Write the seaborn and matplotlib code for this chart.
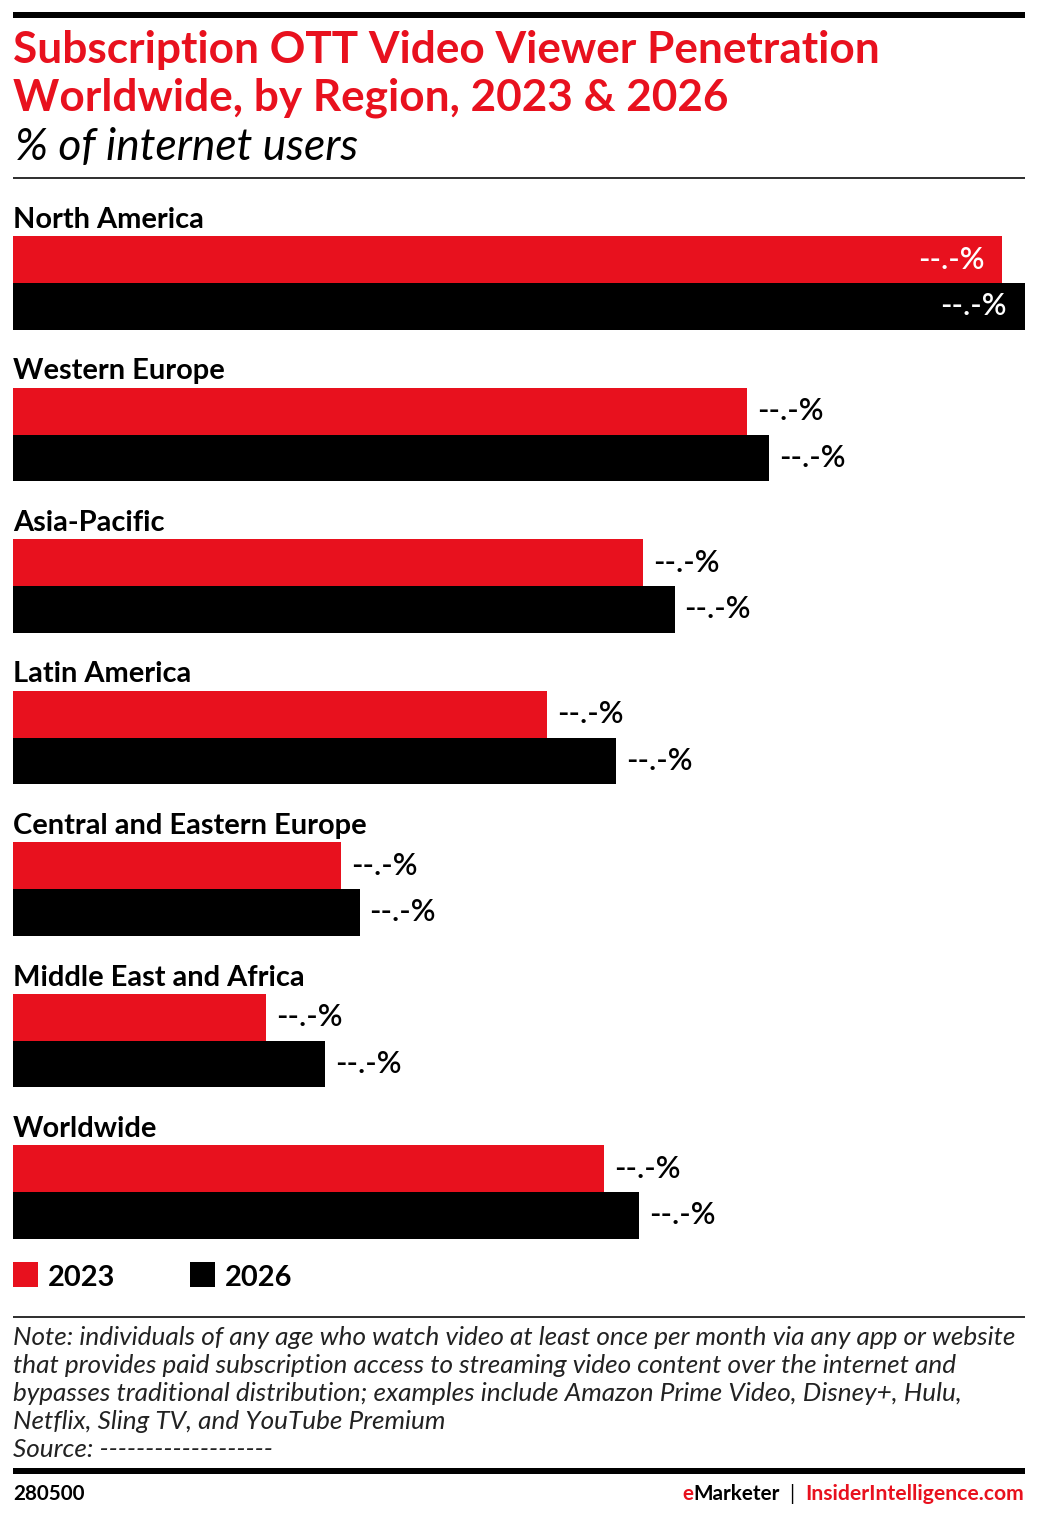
import matplotlib
matplotlib.use("Agg")
import matplotlib.pyplot as plt
from matplotlib.lines import Line2D
from matplotlib.patches import Rectangle
import seaborn as sns
import pandas as pd

# ---------------- data ----------------
regions = ["North America", "Western Europe", "Asia-Pacific", "Latin America",
           "Central and Eastern Europe", "Middle East and Africa", "Worldwide"]
years = ["2023", "2026"]
values_2023 = [78.2, 58.0, 49.8, 42.2, 25.9, 20.0, 46.7]
values_2026 = [80.0, 59.8, 52.3, 47.7, 27.4, 24.7, 49.5]
value_labels_2023 = ["--.-%"] * 7
value_labels_2026 = ["--.-%"] * 7

title_lines = ["Subscription OTT Video Viewer Penetration",
               "Worldwide, by Region, 2023 & 2026"]
subtitle = "% of internet users"
note_lines = [
    "Note: individuals of any age who watch video at least once per month via any app or website",
    "that provides paid subscription access to streaming video content over the internet and",
    "bypasses traditional distribution; examples include Amazon Prime Video, Disney+, Hulu,",
    "Netflix, Sling TV, and YouTube Premium",
    "Source: -------------------",
]
footer_id = "280500"

RED = "#E8111E"
BLACK = "#000000"

df = pd.DataFrame({
    "region": regions * 2,
    "year": [years[0]] * len(regions) + [years[1]] * len(regions),
    "value": values_2023 + values_2026,
})

# ---------------- figure ----------------
sns.set_theme(style="white")
plt.rcParams["font.family"] = ["Lato", "DejaVu Sans"]

W, H = 1038, 1517
fig = plt.figure(figsize=(W / 100, H / 100), dpi=100)
renderer = fig.canvas.get_renderer()


def fx(p):
    return p / W


def fy(p):
    return 1 - p / H


def hline(y, lw_px, x0=13, x1=1025, color="black"):
    fig.add_artist(Line2D([fx(x0), fx(x1)], [fy(y), fy(y)], lw=lw_px * 0.72,
                          color=color, solid_capstyle="butt"))


def fit(t, target_px):
    bb = t.get_window_extent(renderer)
    t.set_fontsize(t.get_fontsize() * target_px / bb.width)
    return t


# rules
hline(15, 6)
hline(178, 1.6)
hline(1317, 1.6)
hline(1471, 6)

# title
t1 = fig.text(fx(13), fy(63), title_lines[0], color=RED, fontsize=30,
              fontweight="bold", ha="left", va="baseline")
fit(t1, 865)
t2 = fig.text(fx(13), fy(110), title_lines[1], color=RED,
              fontsize=t1.get_fontsize(), fontweight="bold", ha="left", va="baseline")
st = fig.text(fx(15), fy(160), subtitle, color="black", fontsize=22,
              fontstyle="italic", ha="left", va="baseline")
fit(st, 343)

# ---------------- bars ----------------
top_px, bot_px = 190, 1250
center0, step = 283, 151.5
ax = fig.add_axes([fx(13), fy(bot_px), fx(1025) - fx(13), (bot_px - top_px) / H])
sns.barplot(data=df, y="region", x="value", hue="year", orient="h",
            palette=[RED, BLACK], width=0.62, gap=0, saturation=1,
            edgecolor="none", linewidth=0, legend=False, ax=ax)
ax.set_xlim(0, max(values_2026))
ax.set_ylim((bot_px - center0) / step, (top_px - center0) / step)
ax.axis("off")

# category labels
cat_fs = None
for i, r in enumerate(regions):
    t = ax.text(0, i + (228 - center0) / step, r, ha="left", va="baseline",
                fontweight="bold", fontsize=16, color="black")
    if cat_fs is None:
        fit(t, 192)
        cat_fs = t.get_fontsize()
    else:
        t.set_fontsize(cat_fs)

# value labels
probe = fig.text(0, 0, "--.-%", fontsize=17, fontweight="semibold")
fit(probe, 66)
lab_fs = probe.get_fontsize()
probe.remove()

px_per_unit = (1025 - 13) / max(values_2026)
for cont, labels in zip(ax.containers, [value_labels_2023, value_labels_2026]):
    for bar, lab in zip(cont, labels):
        w = bar.get_width()
        yc = bar.get_y() + bar.get_height() / 2
        inside = (w * px_per_unit) > 900
        if inside:
            ax.annotate(lab, (w, yc), xytext=(-18 * 0.72, 0), textcoords="offset points",
                        ha="right", va="center", color="white", fontsize=lab_fs,
                        fontweight="semibold")
        else:
            ax.annotate(lab, (w, yc), xytext=(10 * 0.72, 0), textcoords="offset points",
                        ha="left", va="center", color="black", fontsize=lab_fs,
                        fontweight="semibold")

# legend
for xpx, col, yr in [(13, RED, years[0]), (190, BLACK, years[1])]:
    fig.add_artist(Rectangle((fx(xpx), fy(1287)), 25 / W, 25 / H,
                             transform=fig.transFigure, color=col, lw=0))
    lt = fig.text(fx(xpx + 35), fy(1286), yr, fontsize=20, fontweight="bold",
                  ha="left", va="baseline", color="black")
    fit(lt, 67)

# notes
nfs = None
for k, line in enumerate(note_lines):
    nt = fig.text(fx(13), fy(1345 + 28 * k), line, fontsize=13, fontstyle="italic",
                  ha="left", va="baseline", color="#222222")
    if nfs is None:
        fit(nt, 1001)
        nfs = nt.get_fontsize()
    else:
        nt.set_fontsize(nfs)

# footer
ft = fig.text(fx(13), fy(1500), footer_id, fontsize=13, fontweight="bold",
              ha="left", va="baseline", color="black")
fit(ft, 72)
ffs = ft.get_fontsize()
ii = fig.text(fx(1024), fy(1500), "InsiderIntelligence.com", fontsize=ffs,
              fontweight="bold", ha="right", va="baseline", color=RED)
fit(ii, 217)
fig.text(fx(792), fy(1500), "|", fontsize=ffs,
         ha="center", va="baseline", color="black")
e = fig.text(fx(682), fy(1500), "e", fontsize=ffs,
             fontweight="bold", ha="left", va="baseline", color=RED)
ebb = e.get_window_extent(renderer)
fig.text(ebb.x1 / W, fy(1500), "Marketer", fontsize=ffs,
         fontweight="bold", ha="left", va="baseline", color="black")

fig.savefig("out.png", dpi=100, facecolor="white")
